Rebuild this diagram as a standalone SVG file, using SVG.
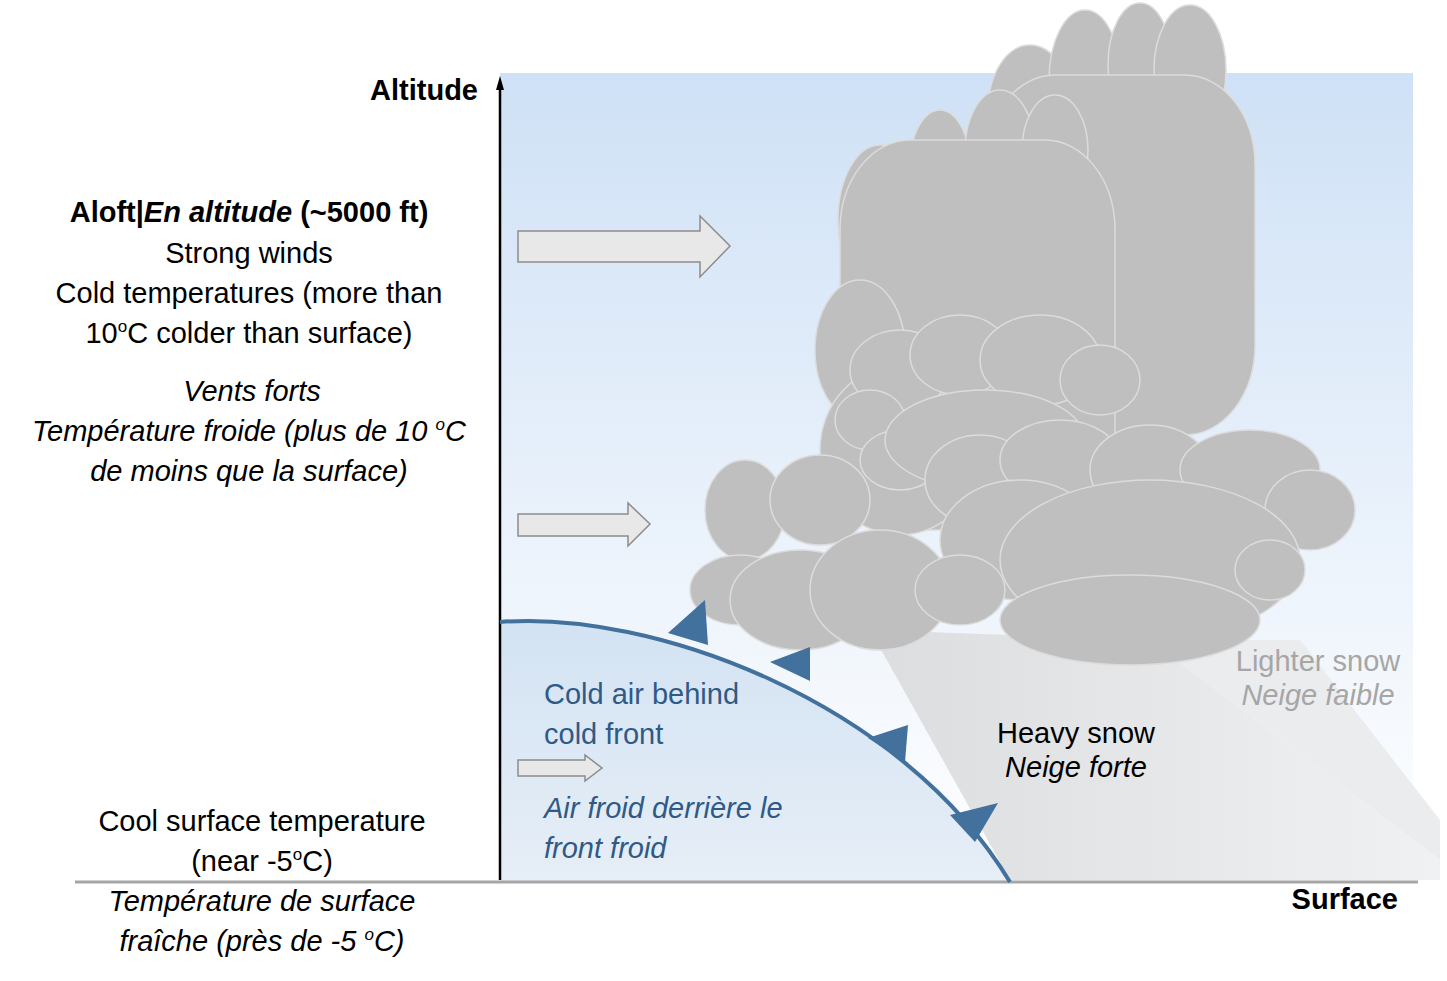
<svg xmlns="http://www.w3.org/2000/svg" width="1447" height="981" viewBox="0 0 1447 981">
<defs>
<linearGradient id="sky" x1="0" y1="0" x2="0" y2="1"><stop offset="0" stop-color="#cfe1f6"/><stop offset="1" stop-color="#ffffff"/></linearGradient>
<linearGradient id="cold" x1="0" y1="0" x2="0" y2="1"><stop offset="0" stop-color="#d3e3f3"/><stop offset="1" stop-color="#e6eef7"/></linearGradient>
<linearGradient id="snow" x1="0" y1="0" x2="1" y2="0"><stop offset="0" stop-color="#dcdddf"/><stop offset="1" stop-color="#f0f1f2"/></linearGradient>
<style>
text{font-family:"Liberation Sans","Open Sans",sans-serif;font-size:29px;fill:#000}
.c{text-anchor:middle}.i{font-style:italic}.b{font-weight:bold}
.bl{fill:#2f5a87}
.cl ellipse,.cl rect{fill:#bfbfbf;stroke:#dcdcdc;stroke-width:1.5}
.ar{fill:#e8e8e8;stroke:#8c8c8c;stroke-width:1.5}
.tri{fill:#41719c}
</style>
</defs>
<rect x="500" y="73" width="913" height="808" fill="url(#sky)"/>
<g id="snow"><polygon points="870,630 1150,640 1440,860 1440,880 1010,880" fill="url(#snow)"/><polygon points="1150,640 1300,640 1440,820 1440,860" fill="#ebecee"/></g>
<g id="coldair"><path d="M500,622 C650,610 900,700 1010,882 L500,882 Z" fill="url(#cold)"/></g>
<g id="clouds" class="cl">
<ellipse cx="1030" cy="110" rx="42" ry="65"/><ellipse cx="1085" cy="80" rx="36" ry="70"/><ellipse cx="1140" cy="65" rx="32" ry="62"/><ellipse cx="1190" cy="70" rx="36" ry="65"/>
<rect x="985" y="75" width="270" height="360" rx="70" ry="90"/>
<ellipse cx="880" cy="220" rx="42" ry="75"/><ellipse cx="940" cy="175" rx="32" ry="65"/><ellipse cx="1000" cy="150" rx="35" ry="60"/><ellipse cx="1055" cy="150" rx="33" ry="55"/>
<rect x="840" y="140" width="275" height="390" rx="70" ry="90"/>
<ellipse cx="860" cy="350" rx="45" ry="70"/><ellipse cx="900" cy="450" rx="80" ry="85"/>
<ellipse cx="900" cy="370" rx="50" ry="40"/><ellipse cx="960" cy="355" rx="50" ry="40"/><ellipse cx="1040" cy="360" rx="60" ry="45"/><ellipse cx="1100" cy="380" rx="40" ry="35"/><ellipse cx="870" cy="420" rx="35" ry="30"/><ellipse cx="900" cy="460" rx="40" ry="30"/><ellipse cx="985" cy="440" rx="100" ry="50"/>
<ellipse cx="745" cy="510" rx="40" ry="50"/><ellipse cx="820" cy="500" rx="50" ry="45"/><ellipse cx="740" cy="590" rx="50" ry="35"/><ellipse cx="800" cy="600" rx="70" ry="50"/><ellipse cx="880" cy="590" rx="70" ry="60"/>
<ellipse cx="980" cy="480" rx="55" ry="45"/><ellipse cx="1060" cy="460" rx="60" ry="40"/><ellipse cx="1150" cy="470" rx="60" ry="45"/><ellipse cx="1250" cy="470" rx="70" ry="40"/><ellipse cx="1310" cy="510" rx="45" ry="40"/><ellipse cx="1020" cy="540" rx="80" ry="60"/><ellipse cx="1150" cy="560" rx="150" ry="80"/><ellipse cx="960" cy="590" rx="45" ry="35"/><ellipse cx="1270" cy="570" rx="35" ry="30"/><ellipse cx="1130" cy="620" rx="130" ry="45"/>
</g>
<g id="connectors">
<line x1="500" y1="880" x2="500" y2="86" stroke="#000" stroke-width="2.5"/>
<polygon points="496,90 500,76 504,90" fill="#000"/>
<line x1="75" y1="882" x2="1418" y2="882" stroke="#a6a6a6" stroke-width="3"/>
<path d="M500,622 C650,610 900,700 1010,882" fill="none" stroke="#41719c" stroke-width="4"/>
<polygon class="tri" points="668,633 705,600 708,645"/>
<polygon class="tri" points="770,662 810,647 810,681"/>
<polygon class="tri" points="868,738 908,725 905,762"/>
<polygon class="tri" points="950,815 998,803 975,842"/>
<polygon class="ar" points="518,231 700,231 700,216 730,246 700,277 700,262 518,262"/>
<polygon class="ar" points="518,514 628,514 628,503 650,524 628,546 628,536 518,536"/>
<polygon class="ar" points="518,760 585,760 585,755 602,768 585,781 585,776 518,776"/>
</g>
<g id="labels">
<text x="478" y="100" class="b" text-anchor="end" font-size="27">Altitude</text>
<text x="249" y="222" class="c b" font-size="32">Aloft|<tspan class="i">En altitude</tspan> (~5000 ft)</text>
<text x="249" y="263" class="c">Strong winds</text>
<text x="249" y="303" class="c">Cold temperatures (more than</text>
<text x="249" y="343" class="c">10<tspan font-size="17" dy="-11">o</tspan><tspan dy="11">C colder than surface)</tspan></text>
<text x="252" y="401" class="c i">Vents forts</text>
<text x="249" y="441" class="c i">Température froide (plus de 10 <tspan font-size="17" dy="-11">o</tspan><tspan dy="11">C</tspan></text>
<text x="249" y="481" class="c i">de moins que la surface)</text>
<text x="262" y="831" class="c">Cool surface temperature</text>
<text x="262" y="871" class="c">(near -5<tspan font-size="17" dy="-11">o</tspan><tspan dy="11">C)</tspan></text>
<text x="262" y="911" class="c i">Température de surface</text>
<text x="262" y="951" class="c i">fraîche (près de -5 <tspan font-size="17" dy="-11">o</tspan><tspan dy="11">C)</tspan></text>
<text x="1398" y="909" class="b" text-anchor="end" font-size="27">Surface</text>
<text x="544" y="704" class="bl">Cold air behind</text>
<text x="544" y="744" class="bl">cold front</text>
<text x="544" y="818" class="bl i">Air froid derrière le</text>
<text x="544" y="858" class="bl i">front froid</text>
<text x="1076" y="743" class="c" font-size="24">Heavy snow</text>
<text x="1076" y="777" class="c i" font-size="24">Neige forte</text>
<text x="1318" y="671" class="c" font-size="24" style="fill:#a6a6a6">Lighter snow</text>
<text x="1318" y="705" class="c i" font-size="24" style="fill:#a6a6a6">Neige faible</text>
</g>
</svg>
